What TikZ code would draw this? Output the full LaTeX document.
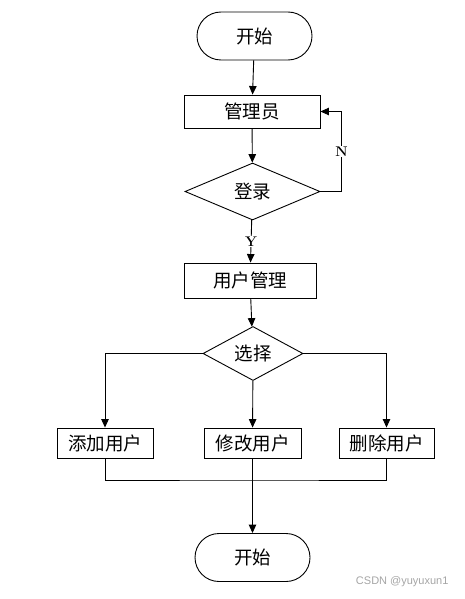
\documentclass[tikz,border=0pt]{standalone}
\usepackage{fontspec}
\newfontfamily\cjk{Noto Sans CJK SC}
\newfontfamily\wmfont{Liberation Sans}
\usetikzlibrary{shapes.geometric,arrows.meta}
\definecolor{wmgray}{RGB}{165,165,165}
\begin{document}
\begin{tikzpicture}[x=1pt,y=-1pt,
 every node/.style={font=\cjk\fontsize{18.5}{18.5}\selectfont},
 box/.style={draw, rectangle, inner sep=0pt, line width=0.9pt},
 term/.style={draw, rectangle, rounded corners=24pt, minimum width=115pt, minimum height=48pt, inner sep=0pt, line width=0.9pt},
 dia/.style={draw, diamond, inner sep=0pt, line width=0.9pt},
 conn/.style={line width=0.9pt},
 arr/.style={conn,-{Triangle[width=7.5pt,length=8.5pt]}},
 yn/.style={font=\rmfamily\bfseries\fontsize{14}{14}\selectfont, inner sep=1pt}
]
\useasboundingbox (0,0) rectangle (465,599);
\node[term] (start) at (254.5,36) {开始};
\node[box, minimum width=136pt, minimum height=33pt] (admin) at (252,111.5) {管理员};
\node[dia, minimum width=135pt, minimum height=57pt] (login) at (252.5,191.5) {登录};
\node[box, minimum width=132pt, minimum height=35pt] (um) at (250,280.5) {用户管理};
\node[dia, minimum width=100pt, minimum height=41pt] (sel) at (253,353.5) {选择};
\node[box, minimum width=96pt, minimum height=30pt] (add) at (105,443) {添加用户};
\node[box, minimum width=97pt, minimum height=30pt] (mod) at (252.5,443) {修改用户};
\node[box, minimum width=95pt, minimum height=30pt] (del) at (386.5,443) {删除用户};
\node[term] (end) at (252.5,557.5) {开始};
\coordinate (m) at (252.5,480);
\node[font=\wmfont\fontsize{11}{11}\selectfont, text=wmgray, anchor=east] (wm) at (452,582) {CSDN @yuyuxun1};
\draw[arr] (start) -- (admin);
\draw[arr] (admin) -- (login);
\draw[arr] (login.east) -- ++(21,0) |- (admin.east) node[pos=0.25, fill=white, yn] {N};
\draw[arr] (login) -- node[fill=white, yn] {Y} (um);
\draw[arr] (um) -- (sel);
\draw[arr] (sel.west) -| (add.north);
\draw[arr] (sel) -- (mod);
\draw[arr] (sel.east) -| (del.north);
\draw[conn] (add.south) |- (m) -| (del.south);
\draw[arr] (mod) -- (end);
\end{tikzpicture}
\end{document}
